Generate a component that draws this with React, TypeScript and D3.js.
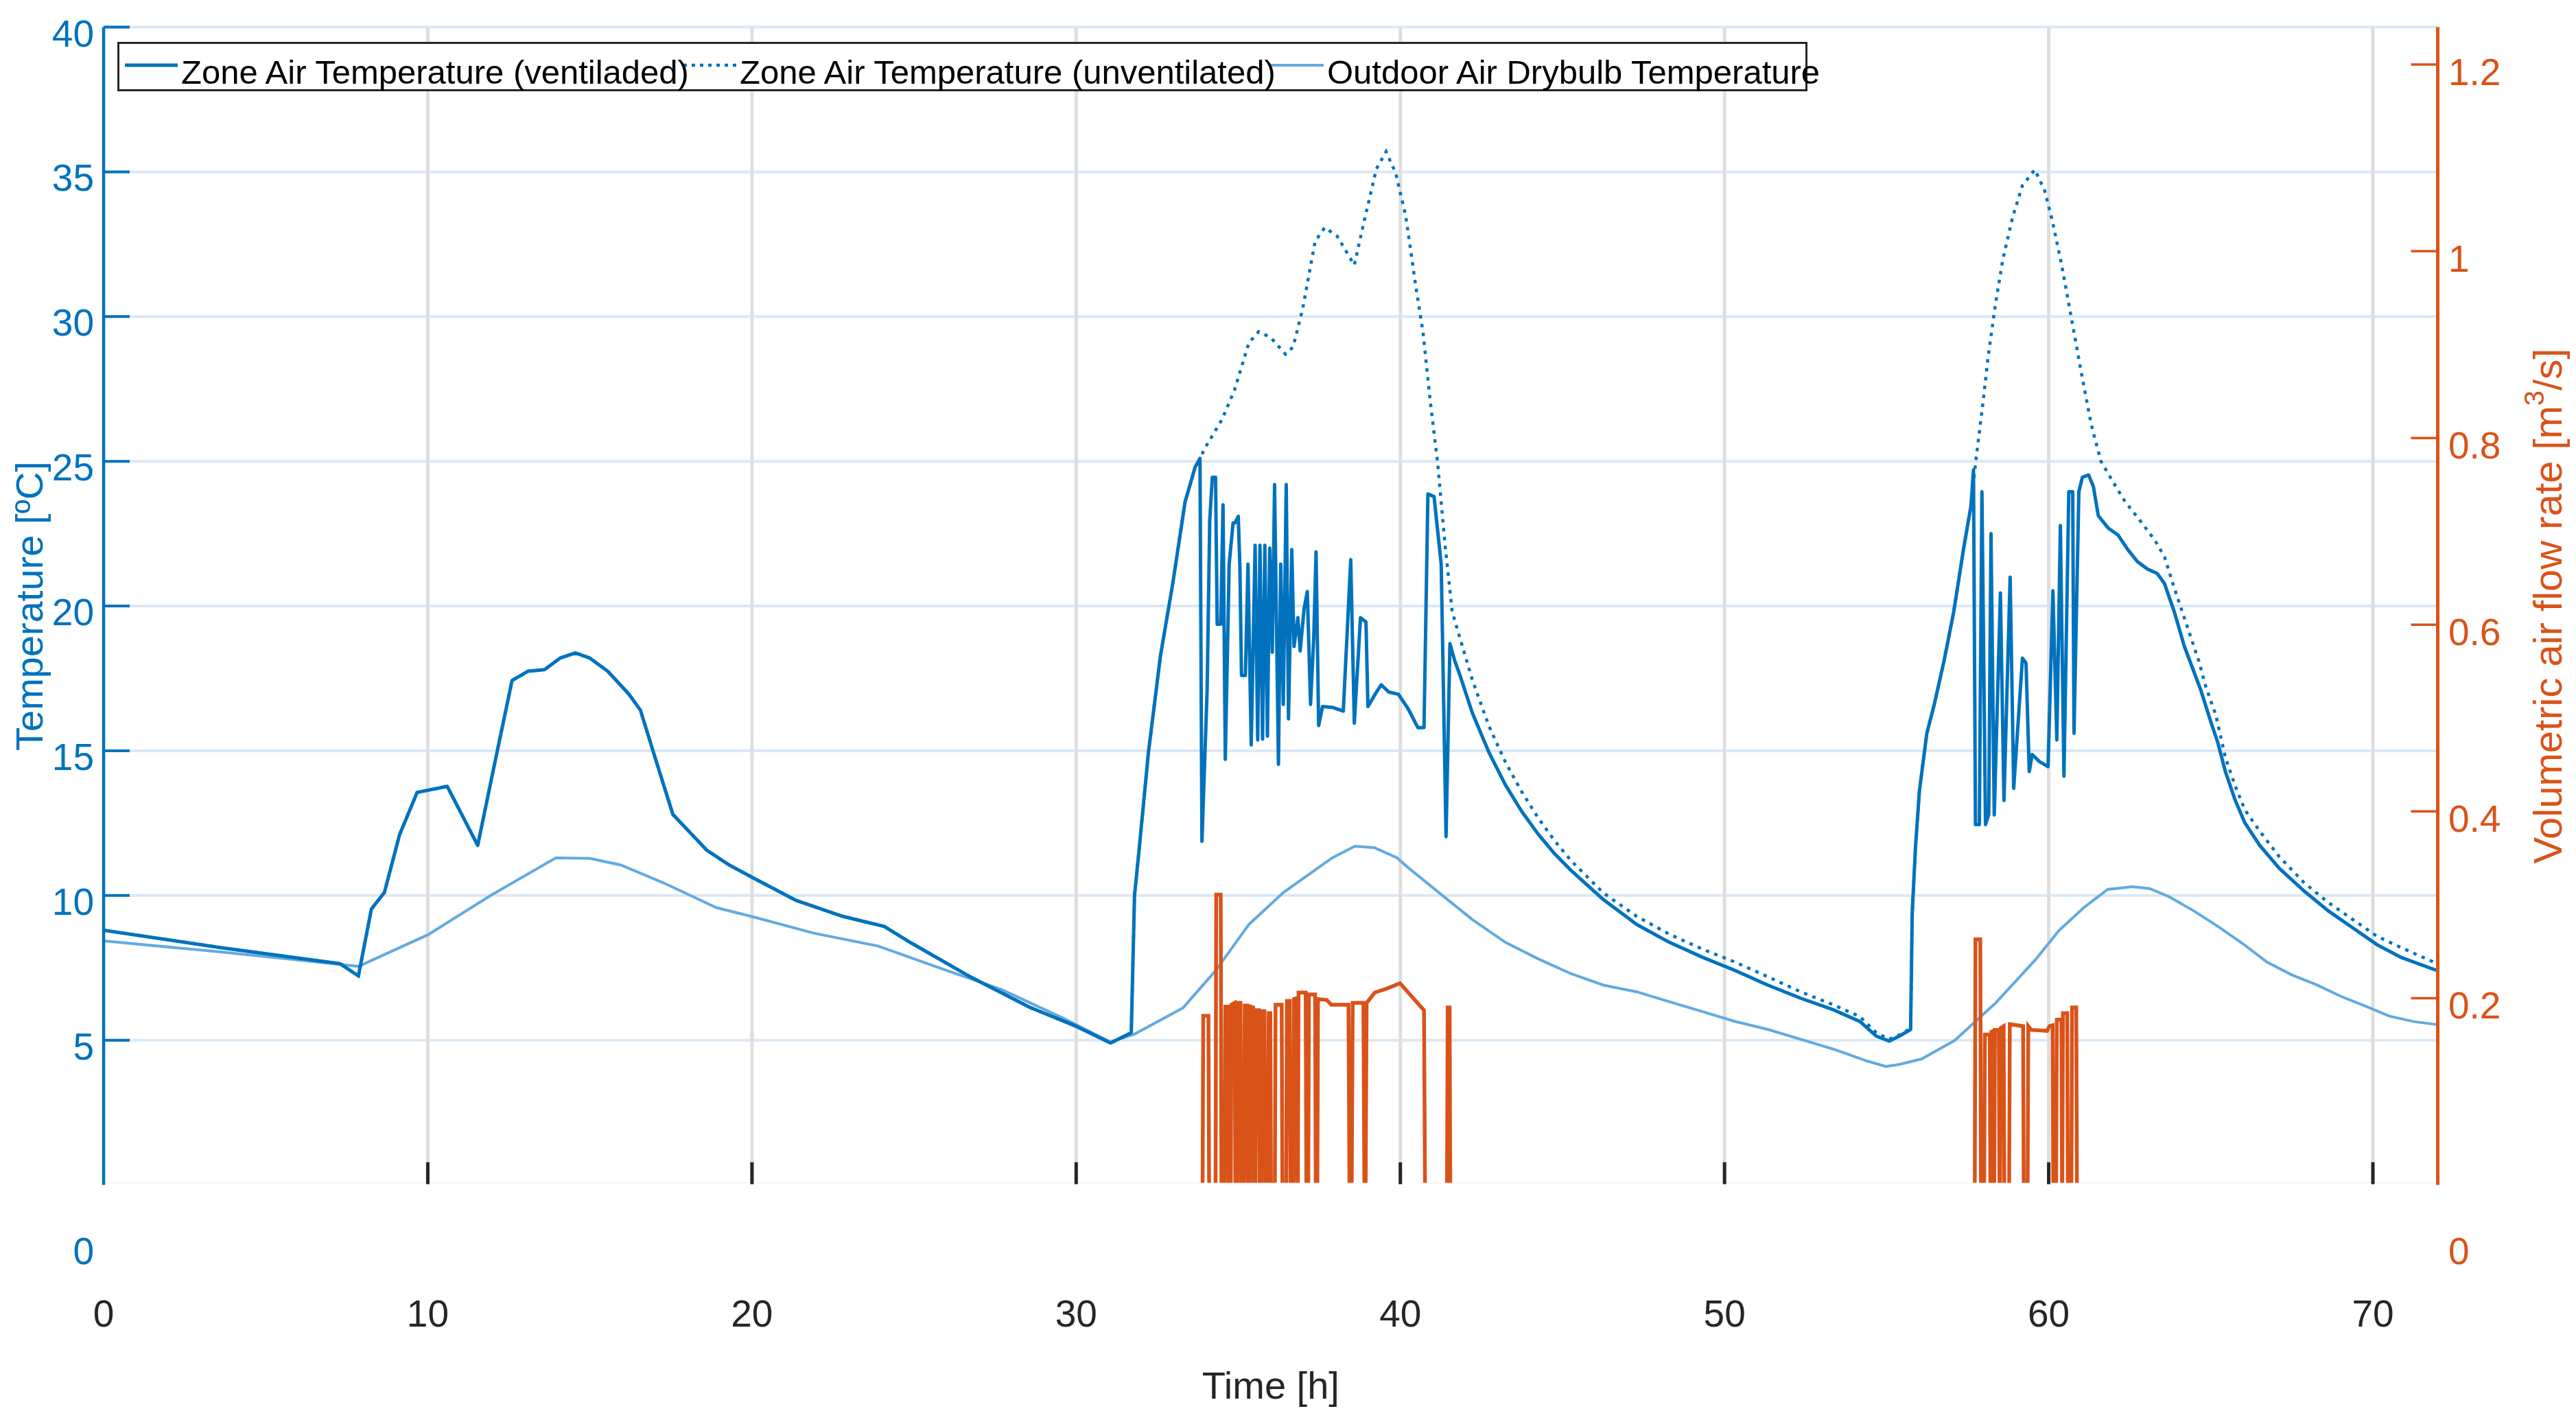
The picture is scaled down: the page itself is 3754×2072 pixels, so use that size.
import * as d3 from "d3";
import { useEffect, useRef } from "react";

type Pt = [number, number];

// time [h], temperature [ºC] — shared by both zone series until ventilation starts
const zoneEarly: Pt[] = [
  [0, 8.8], [3.6, 8.2], [7.3, 7.64], [7.86, 7.22], [8.26, 9.53], [8.66, 10.1], [9.13, 12.1],
  [9.67, 13.56], [10.6, 13.77], [11.54, 11.73], [12.07, 14.6], [12.6, 17.43], [13.1, 17.75],
  [13.6, 17.8], [14.08, 18.2], [14.55, 18.38], [15.0, 18.2], [15.55, 17.75], [16.2, 16.96],
  [16.56, 16.4], [17.0, 14.8], [17.56, 12.8], [18.6, 11.57], [19.3, 11.05], [20.1, 10.57],
  [21.34, 9.84], [22.76, 9.29], [24.08, 8.93], [24.8, 8.43], [26.7, 7.21], [28.6, 6.12],
  [30.0, 5.48], [31.06, 4.9], [31.7, 5.26], [31.8, 10.0], [31.93, 11.45], [32.23, 14.95],
  [32.6, 18.28], [32.98, 20.78], [33.36, 23.6], [33.67, 24.8], [33.82, 25.1],
];

const ventilatedLate: Pt[] = [
  [33.88, 11.87], [34.04, 17.1], [34.12, 22.95], [34.2, 24.45], [34.3, 24.45], [34.35, 19.37],
  [34.46, 19.37], [34.53, 23.5], [34.6, 14.7], [34.72, 21.45], [34.84, 22.87], [34.9, 22.87],
  [35.0, 23.1], [35.05, 21.4], [35.1, 17.6], [35.22, 17.6], [35.3, 21.45], [35.4, 15.2],
  [35.52, 22.1], [35.6, 15.37], [35.67, 22.1], [35.75, 15.4], [35.82, 22.1], [35.9, 15.5],
  [35.97, 22.0], [36.05, 18.4], [36.12, 24.2], [36.24, 14.53], [36.31, 21.45], [36.39, 16.6],
  [36.48, 24.2], [36.55, 16.1], [36.65, 21.95], [36.72, 18.6], [36.84, 19.6], [36.91, 18.45],
  [37.03, 19.9], [37.13, 20.5], [37.23, 16.6], [37.33, 18.95], [37.4, 21.87], [37.48, 15.87],
  [37.6, 16.53], [37.9, 16.5], [38.24, 16.37], [38.47, 21.6], [38.58, 15.95], [38.77, 19.6],
  [38.94, 19.45], [39.0, 16.53], [39.22, 16.95], [39.41, 17.28], [39.64, 17.03], [39.94, 16.95],
  [40.24, 16.45], [40.54, 15.8], [40.73, 15.8], [40.85, 23.87], [41.04, 23.78], [41.26, 21.45],
  [41.41, 12.03], [41.53, 18.7], [41.68, 18.1], [41.82, 17.67], [42.22, 16.31], [42.73, 14.95],
  [43.24, 13.82], [43.74, 12.91], [44.25, 12.12], [44.76, 11.44], [45.26, 10.87], [46.27, 9.85],
  [47.29, 9.0], [48.3, 8.38], [49.31, 7.87], [50.32, 7.41], [51.34, 6.9], [52.35, 6.45],
  [53.36, 6.05], [54.17, 5.65], [54.68, 5.14], [55.08, 4.97], [55.39, 5.14], [55.74, 5.37],
  [55.79, 9.4], [55.89, 11.66], [56.01, 13.6], [56.24, 15.6], [56.47, 16.6], [56.77, 18.1],
  [57.07, 19.8], [57.37, 21.95], [57.6, 23.45], [57.68, 24.7], [57.74, 12.45], [57.86, 12.45],
  [57.94, 23.95], [58.05, 12.45], [58.15, 12.8], [58.22, 22.5], [58.32, 12.78], [58.51, 20.45],
  [58.62, 13.28], [58.81, 21.0], [58.92, 13.7], [59.19, 18.2], [59.3, 18.03], [59.4, 14.28],
  [59.49, 14.87], [59.72, 14.62], [59.98, 14.45], [60.13, 20.53], [60.25, 15.37], [60.36, 22.78],
  [60.47, 14.12], [60.62, 23.95], [60.74, 23.95], [60.78, 15.6], [60.93, 23.95], [61.04, 24.45],
  [61.23, 24.53], [61.38, 24.12], [61.53, 23.12], [61.83, 22.7], [62.14, 22.45], [62.44, 21.95],
  [62.74, 21.53], [63.04, 21.28], [63.35, 21.12], [63.57, 20.78], [63.88, 19.78], [64.18, 18.62],
  [64.69, 17.1], [65.0, 16.0], [65.22, 15.27], [65.45, 14.28], [65.75, 13.3], [66.05, 12.51],
  [66.51, 11.73], [67.11, 10.94], [67.87, 10.16], [68.62, 9.47], [69.38, 8.88], [70.14, 8.29],
  [70.89, 7.85], [71.97, 7.41],
];

const unventilatedLate: Pt[] = [
  [33.97, 25.45], [34.5, 26.45], [34.88, 27.45], [35.33, 29.1], [35.63, 29.48], [36.0, 29.28],
  [36.46, 28.7], [36.69, 28.95], [36.99, 30.28], [37.37, 32.6], [37.67, 33.08], [38.05, 32.78],
  [38.58, 31.78], [38.88, 33.28], [39.26, 35.1], [39.56, 35.7], [39.86, 34.95], [40.17, 33.45],
  [40.47, 31.1], [40.7, 29.45], [40.92, 27.1], [41.15, 24.95], [41.38, 22.1], [41.6, 19.8],
  [42.22, 17.45], [42.73, 15.86], [43.24, 14.61], [43.74, 13.59], [44.25, 12.68], [44.76, 11.89],
  [45.26, 11.21], [46.27, 10.08], [47.29, 9.28], [48.3, 8.66], [49.31, 8.15], [50.32, 7.7],
  [51.34, 7.19], [52.35, 6.67], [53.36, 6.22], [54.17, 5.82], [54.68, 5.26], [55.08, 5.03],
  [55.39, 5.18], [55.74, 5.4], [55.79, 9.4], [55.89, 11.66], [56.01, 13.6], [56.24, 15.6],
  [56.47, 16.6], [56.77, 18.1], [57.07, 19.8], [57.37, 21.95], [57.6, 23.45], [57.75, 25.0],
  [57.98, 27.1], [58.13, 28.6], [58.36, 30.45], [58.58, 31.95], [58.89, 33.45], [59.19, 34.53],
  [59.57, 35.08], [59.87, 34.37], [60.1, 33.37], [60.4, 31.78], [60.7, 29.95], [61.0, 28.1],
  [61.31, 26.28], [61.61, 25.0], [61.99, 24.28], [62.36, 23.6], [62.82, 22.95], [63.27, 22.28],
  [63.57, 21.7], [63.88, 20.6], [64.18, 19.6], [64.63, 18.1], [64.84, 17.23], [65.15, 16.25],
  [65.45, 14.77], [65.75, 13.79], [66.05, 12.96], [66.51, 12.22], [67.11, 11.34], [67.87, 10.45],
  [68.62, 9.76], [69.38, 9.17], [70.14, 8.58], [70.89, 8.19], [71.97, 7.65],
];

const ventilated: Pt[] = [...zoneEarly, ...ventilatedLate];
const unventilated: Pt[] = [...zoneEarly, ...unventilatedLate];

const outdoor: Pt[] = [
  [0, 8.43], [3.6, 8.05], [7.86, 7.55], [10.0, 8.64], [11.94, 10.0], [13.95, 11.3], [15.0, 11.28],
  [15.96, 11.05], [17.3, 10.42], [18.9, 9.58], [20.0, 9.27], [21.9, 8.7], [23.9, 8.25],
  [25.8, 7.49], [27.7, 6.75], [29.6, 5.76], [31.06, 4.94], [31.8, 5.21], [33.3, 6.12],
  [34.3, 7.4], [35.33, 9.0], [36.39, 10.1], [37.02, 10.6], [37.9, 11.3], [38.6, 11.7],
  [39.2, 11.65], [39.9, 11.3], [40.2, 11.0], [41.21, 10.08], [42.22, 9.17], [43.24, 8.38],
  [44.25, 7.81], [45.26, 7.3], [46.27, 6.9], [47.29, 6.67], [48.3, 6.33], [49.31, 5.99],
  [50.32, 5.65], [51.34, 5.37], [52.35, 5.03], [53.36, 4.69], [54.37, 4.29], [54.98, 4.09],
  [55.39, 4.16], [56.08, 4.35], [57.1, 4.99], [58.35, 6.27], [59.6, 7.79], [60.31, 8.78],
  [61.07, 9.57], [61.82, 10.21], [62.58, 10.3], [63.11, 10.24], [63.71, 9.96], [64.47, 9.47],
  [65.22, 8.93], [65.98, 8.34], [66.73, 7.7], [67.49, 7.26], [68.25, 6.92], [69.0, 6.52],
  [69.76, 6.18], [70.51, 5.83], [71.27, 5.64], [71.97, 5.54],
];

// time [h], volumetric air flow rate [m3/s]
const airflow: Pt[] = [
  [0, 0], [33.9, 0], [33.92, 0.181], [34.08, 0.181], [34.1, 0],
  [34.3, 0], [34.32, 0.311], [34.46, 0.311], [34.48, 0],
  [34.58, 0], [34.6, 0.191], [34.68, 0.191], [34.7, 0],
  [34.77, 0], [34.79, 0.193], [34.89, 0.195], [34.91, 0],
  [34.97, 0], [34.99, 0.195], [35.07, 0.195], [35.09, 0],
  [35.18, 0], [35.2, 0.192], [35.28, 0.192], [35.3, 0],
  [35.36, 0], [35.38, 0.191], [35.46, 0.19], [35.48, 0],
  [35.53, 0], [35.55, 0.187], [35.64, 0.187], [35.66, 0],
  [35.71, 0], [35.73, 0.186], [35.81, 0.186], [35.83, 0],
  [35.92, 0], [35.94, 0.184], [35.99, 0.184], [36.01, 0],
  [36.13, 0], [36.15, 0.193], [36.34, 0.193], [36.36, 0],
  [36.48, 0], [36.5, 0.197], [36.59, 0.197], [36.61, 0],
  [36.7, 0], [36.72, 0.199], [36.8, 0.2], [36.82, 0],
  [36.84, 0], [36.86, 0.206], [37.08, 0.206], [37.1, 0],
  [37.16, 0], [37.18, 0.204], [37.37, 0.204], [37.39, 0],
  [37.44, 0], [37.46, 0.199], [37.73, 0.198], [37.87, 0.193], [38.4, 0.193], [38.43, 0],
  [38.5, 0], [38.53, 0.195], [38.86, 0.195], [38.89, 0],
  [38.93, 0], [38.96, 0.195], [39.21, 0.206], [39.56, 0.21], [39.99, 0.216], [40.73, 0.187], [40.76, 0],
  [41.44, 0], [41.46, 0.19], [41.52, 0.19], [41.54, 0],
  [57.72, 0], [57.74, 0.263], [57.89, 0.263], [57.91, 0],
  [58.01, 0], [58.03, 0.161], [58.18, 0.161], [58.2, 0],
  [58.21, 0], [58.23, 0.164], [58.29, 0.165], [58.31, 0],
  [58.32, 0], [58.34, 0.166], [58.46, 0.166], [58.48, 0],
  [58.5, 0], [58.52, 0.168], [58.61, 0.17], [58.63, 0],
  [58.78, 0], [58.8, 0.172], [59.21, 0.17], [59.23, 0],
  [59.35, 0], [59.37, 0.17], [59.46, 0.166], [59.95, 0.165], [60.02, 0.17], [60.12, 0.171], [60.14, 0],
  [60.23, 0], [60.25, 0.177], [60.39, 0.177], [60.41, 0],
  [60.42, 0], [60.44, 0.184], [60.57, 0.184], [60.59, 0],
  [60.7, 0], [60.72, 0.19], [60.85, 0.19], [60.87, 0],
  [72, 0],
];

const timeTicks = [0, 10, 20, 30, 40, 50, 60, 70];
const tempTicks = [5, 10, 15, 20, 25, 30, 35, 40];
const flowTicks = [0.2, 0.4, 0.6, 0.8, 1, 1.2];
const legendLabels = [
  "Zone Air Temperature (ventiladed)",
  "Zone Air Temperature (unventilated)",
  "Outdoor Air Drybulb Temperature",
];

const BLUE = "#0072BD";
const LIGHT_BLUE = "#62aadf";
const ORANGE = "#D95319";
const DARK = "#262626";
const FONT = "'Liberation Sans', Arial, sans-serif";

export default function App() {
  const ref = useRef<SVGSVGElement>(null);

  useEffect(() => {
    if (!ref.current) return;
    const svg = d3.select(ref.current);
    svg.selectAll("*").remove();

    const width = 3754;
    const height = 2072;
    svg.attr("width", width).attr("height", height).attr("viewBox", `0 0 ${width} ${height}`);
    svg.append("rect").attr("width", width).attr("height", height).attr("fill", "#fff");

    const left = 151;
    const right = 3552.5;
    const top = 39.6;
    const bottom = 1726.5;

    const x = d3.scaleLinear().domain([0, 72]).range([left, right]);
    const yT = d3.scaleLinear().domain([0, 40]).range([bottom, top]);
    const yQ = d3.scaleLinear().domain([0, 1.24]).range([bottom, top]);

    // grid
    svg
      .append("g")
      .selectAll("line")
      .data(tempTicks)
      .join("line")
      .attr("x1", left)
      .attr("x2", right)
      .attr("y1", (d) => yT(d))
      .attr("y2", (d) => yT(d))
      .attr("stroke", "#dbe8f4")
      .attr("stroke-width", 4);
    svg
      .append("g")
      .selectAll("line")
      .data(timeTicks.filter((t) => t > 0))
      .join("line")
      .attr("x1", (d) => x(d))
      .attr("x2", (d) => x(d))
      .attr("y1", top)
      .attr("y2", bottom - 2)
      .attr("stroke", "#dedede")
      .attr("stroke-width", 5);

    svg
      .append("clipPath")
      .attr("id", "plot-clip")
      .append("rect")
      .attr("x", left)
      .attr("y", top)
      .attr("width", right - left)
      .attr("height", bottom - top - 3);

    const plot = svg.append("g").attr("clip-path", "url(#plot-clip)");
    const tempLine = d3
      .line<Pt>()
      .x((d) => x(d[0]))
      .y((d) => yT(d[1]));
    const flowLine = d3
      .line<Pt>()
      .x((d) => x(d[0]))
      .y((d) => yQ(d[1]));

    plot
      .append("path")
      .datum(outdoor)
      .attr("fill", "none")
      .attr("stroke", LIGHT_BLUE)
      .attr("stroke-width", 4)
      .attr("d", tempLine);
    plot
      .append("path")
      .datum(unventilated)
      .attr("fill", "none")
      .attr("stroke", BLUE)
      .attr("stroke-width", 4.5)
      .attr("stroke-dasharray", "5 8")
      .attr("d", tempLine);
    plot
      .append("path")
      .datum(ventilated)
      .attr("fill", "none")
      .attr("stroke", BLUE)
      .attr("stroke-width", 5)
      .attr("stroke-linejoin", "round")
      .attr("d", tempLine);
    plot
      .append("path")
      .datum(airflow)
      .attr("fill", "none")
      .attr("stroke", ORANGE)
      .attr("stroke-width", 5.5)
      .attr("d", flowLine);

    // left axis
    svg
      .append("line")
      .attr("x1", left)
      .attr("x2", left)
      .attr("y1", top)
      .attr("y2", bottom)
      .attr("stroke", BLUE)
      .attr("stroke-width", 4.5);
    const lt = svg.append("g").selectAll("g").data(tempTicks).join("g");
    lt.append("line")
      .attr("x1", left)
      .attr("x2", left + 38)
      .attr("y1", (d) => yT(d))
      .attr("y2", (d) => yT(d))
      .attr("stroke", BLUE)
      .attr("stroke-width", 4);
    lt.append("text")
      .attr("x", 137)
      .attr("y", (d) => yT(d) + 28)
      .attr("text-anchor", "end")
      .attr("fill", BLUE)
      .attr("font-family", FONT)
      .attr("font-size", 55)
      .text((d) => d);
    svg
      .append("text")
      .attr("x", 137)
      .attr("y", 1842)
      .attr("text-anchor", "end")
      .attr("fill", BLUE)
      .attr("font-family", FONT)
      .attr("font-size", 55)
      .text("0");
    svg
      .append("text")
      .attr("transform", `translate(62,${(top + bottom) / 2}) rotate(-90)`)
      .attr("text-anchor", "middle")
      .attr("fill", BLUE)
      .attr("font-family", FONT)
      .attr("font-size", 56)
      .text("Temperature [ºC]");

    // right axis
    svg
      .append("line")
      .attr("x1", right)
      .attr("x2", right)
      .attr("y1", top)
      .attr("y2", bottom)
      .attr("stroke", ORANGE)
      .attr("stroke-width", 5);
    const rt = svg.append("g").selectAll("g").data(flowTicks).join("g");
    rt.append("line")
      .attr("x1", right - 39)
      .attr("x2", right)
      .attr("y1", (d) => yQ(d))
      .attr("y2", (d) => yQ(d))
      .attr("stroke", ORANGE)
      .attr("stroke-width", 3.5);
    rt.append("text")
      .attr("x", 3568)
      .attr("y", (d) => yQ(d) + 30)
      .attr("fill", ORANGE)
      .attr("font-family", FONT)
      .attr("font-size", 55)
      .text((d) => d3.format("~g")(d));
    svg
      .append("text")
      .attr("x", 3568)
      .attr("y", 1842)
      .attr("fill", ORANGE)
      .attr("font-family", FONT)
      .attr("font-size", 55)
      .text("0");
    const rTitle = svg
      .append("text")
      .attr("transform", `translate(3733,${(top + bottom) / 2}) rotate(-90)`)
      .attr("text-anchor", "middle")
      .attr("fill", ORANGE)
      .attr("font-family", FONT)
      .attr("font-size", 58);
    rTitle.append("tspan").text("Volumetric air flow rate [m");
    rTitle.append("tspan").attr("font-size", 40).attr("dy", -26).text("3");
    rTitle.append("tspan").attr("dy", 26).text("/s]");

    // x axis ticks and labels
    const xt = svg.append("g").selectAll("g").data(timeTicks).join("g");
    xt.filter((d) => d > 0)
      .append("line")
      .attr("x1", (d) => x(d))
      .attr("x2", (d) => x(d))
      .attr("y1", bottom - 1)
      .attr("y2", bottom - 33)
      .attr("stroke", DARK)
      .attr("stroke-width", 5);
    xt.append("text")
      .attr("x", (d) => x(d))
      .attr("y", 1933)
      .attr("text-anchor", "middle")
      .attr("fill", DARK)
      .attr("font-family", FONT)
      .attr("font-size", 55)
      .text((d) => d);
    svg
      .append("text")
      .attr("x", (left + right) / 2)
      .attr("y", 2038)
      .attr("text-anchor", "middle")
      .attr("fill", DARK)
      .attr("font-family", FONT)
      .attr("font-size", 56)
      .text("Time [h]");

    // legend
    const lg = svg.append("g");
    lg.append("rect")
      .attr("x", 172.5)
      .attr("y", 62.5)
      .attr("width", 2460)
      .attr("height", 69)
      .attr("fill", "#fff")
      .attr("stroke", DARK)
      .attr("stroke-width", 3);
    const sampleX = [182, 996, 1852];
    const sampleStyle = [
      { color: BLUE, dash: null, w: 5 },
      { color: BLUE, dash: "5 7", w: 4.5 },
      { color: LIGHT_BLUE, dash: null, w: 4 },
    ];
    legendLabels.forEach((label, i) => {
      lg.append("line")
        .attr("x1", sampleX[i])
        .attr("x2", sampleX[i] + 77)
        .attr("y1", 95)
        .attr("y2", 95)
        .attr("stroke", sampleStyle[i].color)
        .attr("stroke-width", sampleStyle[i].w)
        .attr("stroke-dasharray", sampleStyle[i].dash);
    });
    legendLabels.forEach((label, i) => {
      lg.append("text")
        .attr("x", sampleX[i] + 82)
        .attr("y", 122)
        .attr("fill", "#000")
        .attr("font-family", FONT)
        .attr("font-size", 49)
        .text(label);
    });
  }, []);

  return (
    <svg
      ref={ref}
      style={{ position: "absolute", left: 0, top: 0, display: "block" }}
      role="img"
      aria-label="Zone air temperature and ventilation air flow"
    />
  );
}
